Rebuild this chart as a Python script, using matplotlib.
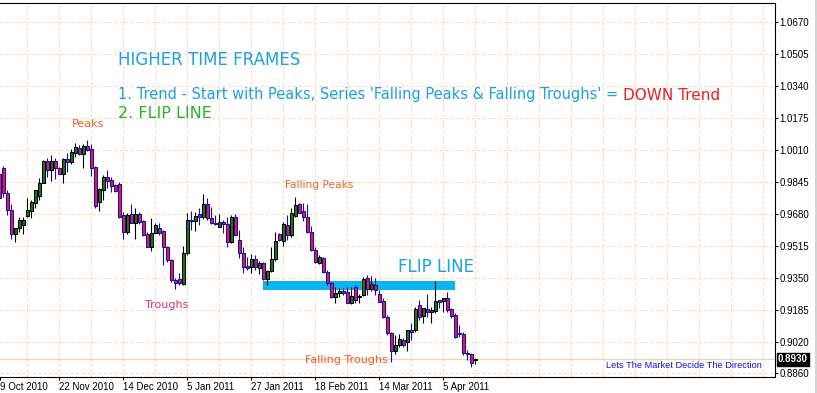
import numpy as np
import matplotlib.pyplot as plt
from matplotlib.patches import Rectangle
from matplotlib.lines import Line2D

# daily OHLC (oldest first)
opens = [
    0.9885, 0.9915, 0.9787, 0.9701, 0.9575, 0.9610, 0.9623, 0.9671, 0.9695, 0.9738,
    0.9773, 0.9838, 0.9953, 0.9909, 0.9953, 0.9917, 0.9886, 0.9964, 0.9950, 0.9996,
    1.0019, 0.9991, 1.0029, 1.0013, 0.9922, 0.9744, 0.9804, 0.9869, 0.9854, 0.9828,
    0.9836, 0.9675, 0.9589, 0.9680, 0.9635, 0.9680, 0.9644, 0.9577, 0.9512, 0.9580,
    0.9606, 0.9592, 0.9512, 0.9443, 0.9340, 0.9345, 0.9319, 0.9477, 0.9649, 0.9646,
    0.9680, 0.9666, 0.9730, 0.9659, 0.9635, 0.9615, 0.9640, 0.9628, 0.9534, 0.9666,
    0.9546, 0.9481, 0.9412, 0.9405, 0.9446, 0.9400, 0.9429, 0.9343, 0.9388, 0.9446,
    0.9575, 0.9543, 0.9623, 0.9572, 0.9670, 0.9730, 0.9697, 0.9663, 0.9589, 0.9494,
    0.9429, 0.9455, 0.9381, 0.9322, 0.9250, 0.9271, 0.9283, 0.9276, 0.9219, 0.9302,
    0.9254, 0.9262, 0.9348, 0.9293, 0.9314, 0.9266, 0.9231, 0.9151, 0.9065, 0.8974,
    0.9005, 0.9030, 0.9018, 0.9080, 0.9080, 0.9211, 0.9156, 0.9190, 0.9173, 0.9180,
    0.9237, 0.9231, 0.9249, 0.9188, 0.9159, 0.9065, 0.9061, 0.8962, 0.8958, 0.8928,
]
highs = [
    0.9895, 0.9929, 0.9804, 0.9730, 0.9610, 0.9666, 0.9666, 0.9761, 0.9752, 0.9804,
    0.9864, 0.9958, 0.9967, 0.9984, 0.9967, 0.9924, 0.9967, 0.9993, 1.0015, 1.0044,
    1.0036, 1.0039, 1.0062, 1.0039, 0.9929, 0.9812, 0.9881, 0.9909, 0.9872, 0.9833,
    0.9843, 0.9689, 0.9683, 0.9732, 0.9709, 0.9692, 0.9649, 0.9589, 0.9658, 0.9632,
    0.9632, 0.9598, 0.9515, 0.9446, 0.9348, 0.9374, 0.9515, 0.9683, 0.9697, 0.9692,
    0.9709, 0.9781, 0.9761, 0.9718, 0.9675, 0.9680, 0.9649, 0.9666, 0.9675, 0.9680,
    0.9598, 0.9512, 0.9460, 0.9474, 0.9469, 0.9439, 0.9434, 0.9391, 0.9512, 0.9589,
    0.9584, 0.9640, 0.9675, 0.9709, 0.9769, 0.9735, 0.9738, 0.9732, 0.9618, 0.9512,
    0.9469, 0.9460, 0.9391, 0.9331, 0.9305, 0.9297, 0.9300, 0.9305, 0.9305, 0.9314,
    0.9266, 0.9357, 0.9365, 0.9362, 0.9348, 0.9288, 0.9245, 0.9159, 0.9073, 0.9056,
    0.9060, 0.9042, 0.9082, 0.9116, 0.9202, 0.9237, 0.9194, 0.9266, 0.9202, 0.9335,
    0.9237, 0.9249, 0.9280, 0.9197, 0.9168, 0.9108, 0.9073, 0.8979, 0.8962, 0.8938,
]
lows = [
    0.9757, 0.9769, 0.9675, 0.9551, 0.9537, 0.9589, 0.9575, 0.9666, 0.9661, 0.9713,
    0.9752, 0.9838, 0.9872, 0.9850, 0.9859, 0.9885, 0.9838, 0.9895, 0.9936, 0.9976,
    0.9984, 0.9919, 1.0005, 0.9878, 0.9713, 0.9695, 0.9750, 0.9812, 0.9792, 0.9792,
    0.9658, 0.9551, 0.9577, 0.9632, 0.9549, 0.9627, 0.9567, 0.9508, 0.9491, 0.9580,
    0.9572, 0.9417, 0.9434, 0.9331, 0.9292, 0.9314, 0.9314, 0.9469, 0.9598, 0.9594,
    0.9623, 0.9653, 0.9649, 0.9628, 0.9623, 0.9615, 0.9580, 0.9512, 0.9532, 0.9567,
    0.9455, 0.9374, 0.9391, 0.9374, 0.9391, 0.9371, 0.9340, 0.9314, 0.9383, 0.9439,
    0.9543, 0.9515, 0.9546, 0.9563, 0.9666, 0.9683, 0.9646, 0.9584, 0.9489, 0.9426,
    0.9422, 0.9374, 0.9314, 0.9245, 0.9223, 0.9254, 0.9262, 0.9219, 0.9216, 0.9223,
    0.9223, 0.9259, 0.9262, 0.9283, 0.9262, 0.9225, 0.9142, 0.9056, 0.8915, 0.8956,
    0.8996, 0.8996, 0.8974, 0.9030, 0.9073, 0.9133, 0.9116, 0.9151, 0.9116, 0.9168,
    0.9194, 0.9176, 0.9176, 0.9145, 0.9042, 0.9048, 0.8953, 0.8927, 0.8893, 0.8905,
]
closes = [
    0.9764, 0.9787, 0.9701, 0.9575, 0.9606, 0.9647, 0.9651, 0.9699, 0.9740, 0.9802,
    0.9838, 0.9953, 0.9905, 0.9955, 0.9915, 0.9888, 0.9964, 0.9950, 0.9998, 1.0025,
    0.9989, 1.0032, 1.0012, 0.9919, 0.9723, 0.9807, 0.9869, 0.9850, 0.9826, 0.9800,
    0.9666, 0.9589, 0.9675, 0.9635, 0.9678, 0.9640, 0.9572, 0.9512, 0.9580, 0.9623,
    0.9584, 0.9512, 0.9443, 0.9340, 0.9323, 0.9323, 0.9477, 0.9649, 0.9646, 0.9670,
    0.9666, 0.9732, 0.9658, 0.9632, 0.9627, 0.9639, 0.9627, 0.9534, 0.9666, 0.9572,
    0.9477, 0.9408, 0.9400, 0.9446, 0.9405, 0.9429, 0.9343, 0.9386, 0.9446, 0.9541,
    0.9546, 0.9627, 0.9572, 0.9687, 0.9726, 0.9687, 0.9663, 0.9589, 0.9494, 0.9434,
    0.9457, 0.9383, 0.9322, 0.9250, 0.9271, 0.9283, 0.9271, 0.9223, 0.9257, 0.9237,
    0.9257, 0.9345, 0.9293, 0.9317, 0.9288, 0.9228, 0.9151, 0.9065, 0.8974, 0.9005,
    0.9035, 0.9005, 0.9082, 0.9073, 0.9190, 0.9151, 0.9194, 0.9173, 0.9185, 0.9231,
    0.9225, 0.9249, 0.9185, 0.9156, 0.9048, 0.9060, 0.8962, 0.8956, 0.8913, 0.8930,
]

date_labels = ["9 Oct 2010", "22 Nov 2010", "14 Dec 2010", "5 Jan 2011",
               "27 Jan 2011", "18 Feb 2011", "14 Mar 2011", "5 Apr 2011"]
price_ticks = [1.0670, 1.0505, 1.0340, 1.0175, 1.0010, 0.9845, 0.9680,
               0.9515, 0.9350, 0.9185, 0.9020, 0.8860]
last_price = 0.8930
flip_low, flip_high = 0.9288, 0.9337   # price band of the flip line
flip_first, flip_last = 66, 114        # candles it spans

W, H = 817, 393
GRID = "#f7dcc2"
BULL_FILL, BULL_EDGE = "#13791a", "#000000"
BEAR_FILL, BEAR_EDGE = "#ee1c2c", "#1010b4"

fig = plt.figure(figsize=(W / 100, H / 100), dpi=100)
fig.patch.set_facecolor("white")
ax = fig.add_axes([0, 16 / H, 775 / W, 374 / H])
ax.set_xlim(0.175, 193.9)
ax.set_ylim(0.88395, 1.0768)

# grid
for p in price_ticks:
    ax.axhline(p, color=GRID, lw=0.75, ls=(0, (3, 2.2)), zorder=0)
for gx in range(7, 194, 8):
    ax.axvline(gx, color=GRID, lw=0.75, ls=(0, (3, 2.2)), zorder=0)
ax.axhline(last_price, color="#f5d3b0", lw=0.9, zorder=0.5)

# flip line zone
ax.add_patch(Rectangle((flip_first, flip_low), flip_last - flip_first,
                       flip_high - flip_low, facecolor="#0ab4f0",
                       edgecolor="none", zorder=1))

# candles
x = np.arange(len(opens))
o, h, l, c = (np.array(v) for v in (opens, highs, lows, closes))
up = c >= o
dn = ~up
ax.vlines(x[up], l[up], h[up], color=BULL_EDGE, lw=0.8, zorder=2)
ax.vlines(x[dn], l[dn], h[dn], color=BEAR_EDGE, lw=0.8, zorder=2)
ax.bar(x[up], c[up] - o[up], bottom=o[up], width=0.62, color=BULL_FILL,
       edgecolor=BULL_EDGE, linewidth=0.75, zorder=3)
ax.bar(x[dn], o[dn] - c[dn], bottom=c[dn], width=0.62, color=BEAR_FILL,
       edgecolor=BEAR_EDGE, linewidth=0.75, zorder=3)

# axes styling
for s in ("right", "bottom", "top"):
    ax.spines[s].set_color("black")
    ax.spines[s].set_linewidth(0.8)
ax.spines["left"].set_visible(False)
ax.yaxis.tick_right()
ax.set_yticks(price_ticks)
ax.set_yticklabels([f"{p:.4f}" for p in price_ticks], fontfamily="Liberation Sans")
ax.tick_params(axis="y", direction="out", length=2.2, width=0.8, pad=1.2,
               labelsize=7, left=False)

date_pos = [max(16 * k - 1, 0.2) for k in range(len(date_labels))]
ax.set_xticks(date_pos)
ax.set_xticklabels(date_labels, fontfamily="Liberation Sans", ha="left")
ax.tick_params(axis="x", direction="out", length=2.2, width=0.8, pad=1.5,
               labelsize=7)

# last price box
ax.text(1.004, last_price, f"{last_price:.4f}", transform=ax.get_yaxis_transform(),
        ha="left", va="center", color="white", fontsize=7, fontweight="bold",
        fontfamily="Liberation Sans",
        bbox=dict(boxstyle="square,pad=0.15", fc="black", ec="black"))

# annotations (pixel positions from the screenshot)
def fp(px, py):
    return px / W, 1 - py / H

HAND = "DejaVu Sans"
fig.text(*fp(118, 60), "HIGHER TIME FRAMES", color="#1e9ee6", fontsize=12,
         family=HAND, va="center")
t1 = fig.text(*fp(118, 95), "1. Trend - Start with Peaks, Series 'Falling Peaks & Falling Troughs' = ",
              color="#1e9ee6", fontsize=10.5, family=HAND, va="center")
fig.canvas.draw()
ax.annotate("DOWN Trend", xy=(1, 0.5), xycoords=t1, va="center", ha="left",
            color="#ee1c24", fontsize=11, family=HAND)
fig.text(*fp(118, 113), "2. FLIP LINE", color="#2ab02a", fontsize=11.5,
         family=HAND, va="center")
fig.text(*fp(72, 124), "Peaks", color="#f0602a", fontsize=8, family=HAND, va="center")
fig.text(*fp(285, 185), "Falling Peaks", color="#f06428", fontsize=7.7, family=HAND, va="center")
fig.text(*fp(145, 305), "Troughs", color="#e0306e", fontsize=8, family=HAND, va="center")
fig.text(*fp(305, 360), "Falling Troughs", color="#f05a28", fontsize=8, family=HAND, va="center")
fig.text(*fp(398, 267), "FLIP LINE", color="#1ea0e6", fontsize=12, family=HAND, va="center")
fig.text(*fp(606, 366), "Lets The Market Decide The Direction", color="#1414e6",
         fontsize=6.7, family="Liberation Sans", va="center")

# window edge at far right
fig.add_artist(Line2D([815.5 / W] * 2, [0, 1], color="#d6d6d6", lw=1.5))

fig.savefig("out.png", dpi=100)
